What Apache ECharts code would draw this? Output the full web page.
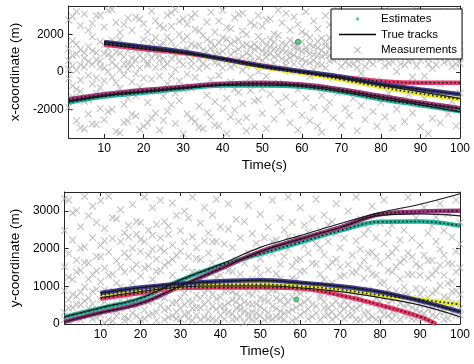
<!DOCTYPE html>
<html><head><meta charset="utf-8">
<script src="https://cdn.jsdelivr.net/npm/echarts@6/dist/echarts.min.js"></script>
<style>html,body{margin:0;padding:0;background:#fff}#c{width:474px;height:364px}</style>
</head><body><div id="c"></div>
<script>
// ---------- tick labels ----------
const timeTicks = [10, 20, 30, 40, 50, 60, 70, 80, 90, 100];
const xCoordTicks = [-2000, 0, 2000];
const yCoordTicks = [0, 1000, 2000, 3000];

// ---------- sample times ----------
const tFrom1 = [1, 10, 20, 30, 40, 50, 60, 70, 80, 90, 100];
const tFrom10 = [10, 20, 30, 40, 50, 60, 70, 80, 90, 100];
const tRedY = [10, 20, 30, 40, 50, 60, 70, 80, 90, 94];

// ---------- x-coordinate (top panel) ----------
const xTrue1 = [-1530, -1240, -1020, -830, -670, -620, -700, -960, -1320, -1650, -1960];
const xTrue2 = [-1590, -1280, -1070, -870, -705, -690, -770, -1040, -1410, -1740, -2110];
const xTrue3 = [1600, 1340, 1070, 720, 340, 40, -270, -640, -920, -1190];
const xTrue4 = [1480, 1230, 1000, 690, 300, 0, -330, -700, -1050, -1400];
const xEstMagenta = [-1450, -1185, -960, -783, -626, -574, -663, -924, -1274, -1618, -1916];
const xEstTeal = [-1620, -1305, -1096, -887, -715, -715, -783, -1065, -1446, -1759, -2080];
const xEstBlue = [1597, 1336, 1075, 690, 320, 30, -261, -640, -924, -1185];
const xEstRed = [1462, 1216, 1007, 700, 330, 20, -250, -490, -574, -574];
const xEstYellow = [1520, 1260, 1000, 660, 250, -50, -400, -800, -1150, -1446];

// ---------- y-coordinate (bottom panel) ----------
const yTrue1 = [190, 430, 690, 1170, 1580, 2033, 2342, 2665, 2955, 3175, 3453];
const yTrue2 = [60, 300, 550, 1010, 1465, 1920, 2250, 2560, 2880, 2920, 2868];
const yTrue3 = [823, 965, 1070, 1131, 1157, 1097, 1000, 850, 613, 324];
const yTrue4 = [700, 860, 980, 1010, 1010, 960, 860, 700, 500, 192];
const yEstTeal = [190, 420, 676, 1157, 1552, 1859, 2166, 2474, 2709, 2717, 2605];
const yEstMagenta = [60, 300, 544, 1000, 1465, 1920, 2254, 2560, 2911, 2980, 3000];
const yEstBlue = [823, 965, 1070, 1131, 1157, 1097, 1000, 850, 613, 324];
const yEstYellow = [763, 895, 1000, 1052, 1052, 1000, 912, 763, 650, 518];
const yEstRed = [676, 823, 955, 965, 965, 939, 763, 500, 192, 0];

// ---------- stray estimate ----------
const strayT = [59];
const strayX = [1600];
const strayY = [650];

// ---------- measurements: [time, values...] ----------
const measXRows = [
[1,2760,610,-340,-1880,1230,140],[2,320,-730,2940,-1310,880,1650],[3,90,940,-2580,1470,-910,3210],
[4,-420,2470,-1040,390,1180,-2950],[5,730,-3010,250,3080,-1560,1020],[6,-190,1340,-1480,-2230,560,2210],
[7,410,-640,2590,1870,-2760,1110],[8,1020,-310,-1130,-2790,640,2980],[9,580,-820,1610,3010,-1940,270],
[10,230,-470,2380,-2530,980,1430],[11,910,-1190,1240,30,3270,-2110],[12,-280,520,3320,-1990,1690,810],
[13,1480,-570,2630,330,-3160,1060],[14,120,-880,-3220,990,2090,1730],[15,790,-170,2520,-1720,440,-2680],
[16,1130,-1390,-2610,420,2870,150],[17,370,-520,2210,1380,-2240,730],[18,-90,630,-2330,2910,1180,-1270],
[19,1310,-790,2810,210,-3050,880],[20,-320,690,-2880,1720,2560,1240],[21,470,2130,-1620,1040,-2710,360],
[22,1190,-380,3240,-2420,760,1580],[23,240,1830,-1020,2730,-2190,960],[24,870,-210,-3090,610,1410,2450],
[25,1520,280,-1290,2330,-2560,690],[26,-610,1120,3010,-2080,430,1870],[27,720,2420,-230,1620,-1740,3140],
[28,130,1290,-2730,3310,890,-1110],[29,1030,-480,1990,-1530,570,2680],[30,380,1690,-3280,2830,-910,1150],
[31,1210,-120,2530,-2210,820,1880],[32,590,2910,-870,1490,-2470,310],[33,-290,920,-2620,3090,1380,2260],
[34,1420,180,2190,-1810,680,-2940],[35,830,-720,1930,-3010,1160,450],[36,290,2640,-1230,1080,-2130,1710],
[37,1590,-410,3170,-2390,740,1260],[38,510,1330,-1580,2120,-2820,940],[39,980,-190,2710,-2870,1570,420],
[40,210,1820,-780,3280,1090,-1940],[41,1290,590,-1410,-3270,2360,1740],[42,-530,930,2290,1510,-2380,260],
[43,1090,380,-2010,2880,1620,-920],[44,690,-1080,1730,-2620,1210,3060],[45,1410,90,3120,-1680,820,2180],
[46,310,1010,-2430,1990,-3110,1460],[47,880,-280,2620,-980,1330,540],[48,1490,520,-2910,1190,2470,-1540],
[49,20,1880,-1470,2990,760,1290],[50,1120,610,-2190,2430,1640,-880],[51,790,-230,1410,-2990,1020,2760],
[52,330,1720,-1180,2810,980,1330],[53,1230,470,-2490,2010,1590,810],[54,870,-580,3280,-1620,1210,1940],
[55,1530,230,-2080,2610,690,1160],[56,620,1070,-1320,3120,1440,340],[57,1010,2230,-2690,40,1680,760],
[58,420,1310,-1710,2920,890,1520],[59,1190,2520,-930,-3080,740,1380],[60,680,1610,-2290,310,1090,2140],
[61,1120,2020,-1380,3190,560,1290],[62,490,1470,-2580,-230,970,1810],[63,930,2710,-1880,120,1340,610],
[64,1280,430,-2870,2290,870,1620],[65,820,1790,-1230,-3190,1150,380],[66,1390,210,2980,-1990,940,1560],
[67,590,1240,-1620,2510,1820,870],[68,1020,2080,-2420,-310,1390,640],[69,1480,730,3270,-1120,1060,2160],
[70,290,1320,-2820,1990,880,1510],[71,1090,2380,-1920,530,1460,820],[72,780,1730,-2310,2990,1210,380],
[73,1320,420,-1390,2620,940,1770],[74,610,1030,-3120,2180,1520,240],[75,1510,-80,2790,-1780,1130,690],
[76,920,1820,-2520,290,1290,2430],[77,1180,580,3090,-1330,1740,860],[78,430,1380,-2090,2410,1010,1690],
[79,1040,1990,-2880,-470,1380,760],[80,690,1290,2690,-1620,1820,1060],[81,1420,320,-2380,3260,1110,790],
[82,870,1720,-1140,2230,1360,480],[83,530,1170,-2970,2870,1590,940],[84,1270,30,2480,-1970,860,1530],
[85,790,1630,-1490,3080,1190,420],[86,1140,370,-2630,1980,1480,820],[87,580,1410,2830,-1180,990,1790],
[88,1470,880,-2180,-270,1210,630],[89,320,1880,3290,-1710,1040,1390],[90,990,620,-2920,2380,1560,1180],
[91,1310,-230,2130,-1420,880,1620],[92,720,1690,-3260,2690,1140,420],[93,1080,190,-2460,2980,1410,870],
[94,380,1530,-1830,2270,960,1220],[95,1390,780,-2690,-620,1180,1860],[96,930,1920,-1280,3180,1340,510],
[97,620,1190,2580,-2230,1490,890],[98,1230,290,-1570,2920,840,1640],[99,780,1580,-2870,2030,1260,430],
[100,1010,470,-1120,3260,1380,820]
];
const measYRows = [
[1,310,880,1520,2480,120,3320],[2,90,640,1870,3290,1240,420],[3,430,1180,2230,780,2940,170],
[4,220,730,1690,3010,1380,520],[5,510,1420,2580,110,2010,840],[6,280,980,2040,3380,610,1630],
[7,690,1620,2870,230,1190,410],[8,130,540,1310,2290,3120,860],[9,380,1790,2690,920,170,1410],
[10,240,1120,2080,3270,640,1780],[11,590,1480,2530,30,910,2210],[12,330,870,1910,3390,120,1290],
[13,80,1320,2270,710,2820,460],[14,520,1680,2790,220,1090,340],[15,410,980,2190,3030,1510,630],
[16,190,1380,2420,740,1880,90],[17,620,1770,2610,130,2310,920],[18,290,1090,2010,3170,530,1460],
[19,470,1580,2380,880,2720,210],[20,120,1270,1920,2690,620,2240],[21,380,820,2190,3370,1480,140],
[22,230,1530,2490,580,1820,960],[23,610,1180,1980,3080,270,2350],[24,310,1720,2640,90,820,1390],
[25,490,1410,2280,3280,2010,720],[26,110,690,1930,2720,380,1560],[27,420,1630,2380,910,180,2590],
[28,210,1290,2090,3210,560,1710],[29,580,1820,2880,320,990,140],[30,130,1120,2470,690,420,1930],
[31,510,1490,2180,2990,260,830],[32,290,930,1790,2810,610,140],[33,90,590,2310,3360,1380,420],
[34,430,1370,2020,230,760,1740],[35,680,1710,2680,110,430,1180],[36,180,520,1290,3090,2210,820],
[37,620,1880,2410,330,920,140],[38,140,790,1620,2890,470,2180],[39,390,1230,2190,3310,660,90],
[40,230,710,1780,2580,1290,480],[41,480,1520,2120,130,860,330],[42,310,880,2510,3190,560,1420],
[43,120,630,1390,2030,270,860],[44,420,1690,2770,790,140,590],[45,190,490,1320,2290,730,380],
[46,580,1620,2720,30,340,990],[47,280,820,1880,3140,540,170],[48,110,1190,2390,520,770,320],
[49,530,1480,2140,290,920,130],[50,220,690,1730,2910,460,1290],[51,380,1130,2290,110,640,1890],
[52,610,1430,2570,290,820,160],[53,130,910,1870,3280,470,2190],[54,410,1330,2230,680,190,880],
[55,180,620,1580,2820,340,1190],[56,520,1790,2490,120,730,290],[57,320,980,1990,3370,580,2320],
[58,90,720,1530,2690,380,1210],[59,440,1180,2310,880,140,1690],[60,230,810,1720,3080,520,1390],
[61,580,1410,2620,320,890,2080],[62,130,1020,1880,2430,660,390],[63,520,1610,2790,190,940,2240],
[64,290,880,2120,3310,480,1590],[65,690,1320,2480,110,2010,770],[66,210,590,1830,2890,1180,420],
[67,420,1520,2190,790,240,2630],[68,120,1090,2710,510,1640,320],[69,610,1720,2390,3190,880,190],
[70,290,790,1510,2020,480,1260],[71,140,1290,2280,620,2590,410],[72,490,1580,2620,2990,860,230],
[73,230,880,1820,410,1360,640],[74,410,1380,2210,3370,720,120],[75,110,690,1980,2790,480,1540],
[76,580,1210,1690,290,2380,860],[77,320,1480,2520,910,140,1880],[78,190,820,1910,3120,560,1320],
[79,510,1290,2290,120,690,1790],[80,130,590,1620,2680,370,1090],[81,390,1110,2120,3290,810,240],
[82,220,920,1790,2410,560,1420],[83,620,1380,2610,310,140,1890],[84,290,690,1520,2010,880,420],
[85,110,1190,2230,2980,560,1640],[86,480,980,1710,2490,230,790],[87,210,780,1880,3360,1310,520],
[88,430,1310,2280,140,690,1780],[89,130,620,1590,2810,940,380],[90,510,1520,2090,310,780,1290],
[91,280,910,1820,3090,520,140],[92,110,1220,2410,690,1680,390],[93,420,820,1690,2590,230,1310],
[94,190,1410,2190,480,880,2840],[95,590,1020,1980,3190,310,1560],[96,320,1290,2480,120,720,1820],
[97,140,690,1610,2920,430,1080],[98,490,1120,2310,290,860,1590],[99,230,880,1920,3290,560,1380],
[100,410,1490,2120,2690,780,230]
];

// ---------- build ----------
const pairs = (t, v) => t.map((x, i) => [x, v[i]]);
const flat = rows => rows.flatMap(r => r.slice(1).map(v => [r[0], v]));
const FONT = 'Liberation Sans, Arial, sans-serif';
const AXC = '#262626';
const XSYM = 'path://M0,1L1,0L5,4L9,0L10,1L6,5L10,9L9,10L5,6L1,10L0,9L4,5Z';

function xAx(grid, top) {
  return {
    type: 'value', gridIndex: grid, min: 1, max: 100, position: top ? 'top' : 'bottom',
    axisLine: { show: true, onZero: false, lineStyle: { color: AXC, width: 1 } },
    axisTick: { show: true, inside: true, length: 4, customValues: timeTicks, lineStyle: { color: AXC } },
    axisLabel: { show: !top, customValues: timeTicks, color: '#000', fontSize: 12, fontFamily: FONT, margin: 5,
      formatter: v => String(v) },
    splitLine: { show: false },
    name: top ? '' : 'Time(s)', nameLocation: 'middle', nameGap: 20,
    nameTextStyle: { color: '#000', fontSize: 13.5, fontFamily: FONT }
  };
}
function yAx(grid, right, min, max, ticks, name) {
  return {
    type: 'value', gridIndex: grid, min: min, max: max, position: right ? 'right' : 'left',
    axisLine: { show: true, onZero: false, lineStyle: { color: AXC, width: 1 } },
    axisTick: { show: true, inside: true, length: 4, customValues: ticks, lineStyle: { color: AXC } },
    axisLabel: { show: !right, customValues: ticks, color: '#000', fontSize: 12, fontFamily: FONT, margin: 5,
      formatter: v => String(v) },
    splitLine: { show: false },
    name: right ? '' : name, nameLocation: 'middle', nameGap: 34,
    nameTextStyle: { color: '#000', fontSize: 13.5, fontFamily: FONT }
  };
}

const series = [];
function addPanel(xi, yi, meas, trues, ests, stray) {
  series.push({
    name: 'Measurements', type: 'scatter', xAxisIndex: xi, yAxisIndex: yi, data: meas,
    symbol: XSYM, symbolSize: 7.5, itemStyle: { color: '#b0b0b0' }, z: 1, silent: true
  });
  ests.forEach((e, k) => {
    series.push({
      name: 'est' + xi + '_' + k, type: 'line', xAxisIndex: xi, yAxisIndex: yi, data: e.d,
      smooth: 0.4, symbol: 'none', lineStyle: { color: e.c, width: 4.5 }, z: 3, clip: true
    });
    series.push({
      name: 'estdot' + xi + '_' + k, type: 'line', xAxisIndex: xi, yAxisIndex: yi, data: e.d,
      smooth: 0.4, symbol: 'none', lineStyle: { color: '#111', width: 1.6, type: [1.5, 2.6] }, z: 4, clip: true
    });
  });
  trues.forEach(d => {
    series.push({
      name: 'True tracks', type: 'line', xAxisIndex: xi, yAxisIndex: yi, data: d,
      smooth: 0.4, symbol: 'none', lineStyle: { color: '#1a1a1a', width: 1.2 }, z: 5, clip: true
    });
  });
  series.push({
    name: 'Estimates', type: 'scatter', xAxisIndex: xi, yAxisIndex: yi, data: stray,
    symbol: 'circle', symbolSize: 5, itemStyle: { color: '#3fbf6a', borderColor: '#1f7a3c', borderWidth: 0.8 }, z: 6
  });
}

const C = { teal: '#22b39b', magenta: '#9c3a7c', red: '#e83a6a', yellow: '#e6ea2a', blue: '#3e3f8f' };

addPanel(0, 0, flat(measXRows),
  [pairs(tFrom1, xTrue1), pairs(tFrom1, xTrue2), pairs(tFrom10, xTrue3), pairs(tFrom10, xTrue4)],
  [{ d: pairs(tFrom1, xEstTeal), c: C.teal }, { d: pairs(tFrom1, xEstMagenta), c: C.magenta },
   { d: pairs(tFrom10, xEstYellow), c: C.yellow }, { d: pairs(tFrom10, xEstRed), c: C.red },
   { d: pairs(tFrom10, xEstBlue), c: C.blue }],
  pairs(strayT, strayX));
addPanel(2, 2, flat(measYRows),
  [pairs(tFrom1, yTrue1), pairs(tFrom1, yTrue2), pairs(tFrom10, yTrue3), pairs(tFrom10, yTrue4)],
  [{ d: pairs(tFrom1, yEstTeal), c: C.teal }, { d: pairs(tFrom1, yEstMagenta), c: C.magenta },
   { d: pairs(tRedY, yEstRed), c: C.red }, { d: pairs(tFrom10, yEstYellow), c: C.yellow },
   { d: pairs(tFrom10, yEstBlue), c: C.blue }],
  pairs(strayT, strayY));

const chart = echarts.init(document.getElementById('c'), null, { renderer: 'canvas' });
chart.setOption({
  animation: false,
  backgroundColor: '#fff',
  grid: [
    { left: 55, right: 14, top: 6, height: 132 },
    { left: 55, right: 14, top: 192, height: 132 }
  ],
  xAxis: [xAx(0, false), xAx(0, true), xAx(1, false), xAx(1, true)],
  yAxis: [
    yAx(0, false, -3500, 3500, xCoordTicks, 'x-coordinate (m)'),
    yAx(0, true, -3500, 3500, xCoordTicks, ''),
    yAx(1, false, 0, 3500, yCoordTicks, 'y-coordinate (m)'),
    yAx(1, true, 0, 3500, yCoordTicks, '')
  ],
  legend: {
    left: 331, top: 9, orient: 'vertical', itemWidth: 37, itemHeight: 10, itemGap: 3.5,
    padding: [4, 5, 3, 8], backgroundColor: '#fff', borderColor: '#000', borderWidth: 1, borderRadius: 0,
    textStyle: { color: '#000', fontSize: 11.5, fontFamily: FONT },
    selectedMode: false,
    data: [
      { name: 'Estimates', itemStyle: { borderWidth: 0, color: '#3fbf6a' },
        icon: 'path://M0,0h0.02v0.02h-0.02Z M10,10h-0.02v-0.02h0.02Z M6.8,5A1.8,1.8 0 1 1 3.2,5A1.8,1.8 0 1 1 6.8,5Z' },
      { name: 'True tracks', itemStyle: { color: '#000' }, icon: 'path://M0,4.2h37v1.7h-37Z' },
      { name: 'Measurements', itemStyle: { color: '#a0a0a0' },
        icon: 'path://M0,0h0.02v0.02h-0.02Z M10,10h-0.02v-0.02h0.02Z M1.5,2.2L2.2,1.5L5,4.3L7.8,1.5L8.5,2.2L5.7,5L8.5,7.8L7.8,8.5L5,5.7L2.2,8.5L1.5,7.8L4.3,5Z' }
    ]
  },
  series: series
});
</script></body></html>
